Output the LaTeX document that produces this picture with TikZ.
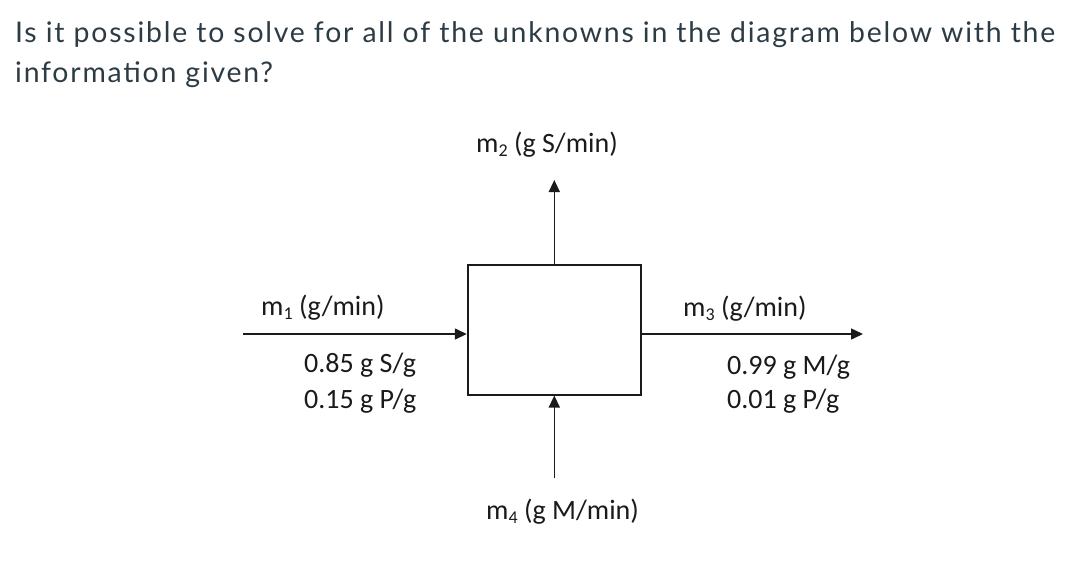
\documentclass[tikz,border=0pt]{standalone}
\usepackage{fontspec}
\setmainfont{Carlito}
\newfontfamily\latofont[LetterSpace=6.3]{Lato}
\usetikzlibrary{arrows.meta}
\definecolor{titlecol}{HTML}{2D3B45}
\definecolor{inkcol}{HTML}{1A1A1A}
\newcommand\sbs[1]{\raisebox{-4.5pt}{\fontsize{18}{18}\selectfont #1}}
\begin{document}
\begin{tikzpicture}[x=1pt,y=-1pt,
  title/.style={anchor=base west,inner sep=0pt,text=titlecol,font=\latofont\fontsize{28.4}{32}\selectfont},
  lbl/.style={anchor=base west,inner sep=0pt,text=inkcol,font=\fontsize{28}{32}\selectfont},
  flow/.style={draw=inkcol,line width=1.5pt,-{Triangle[length=12pt,width=11pt]}},
  unit/.style={draw=inkcol,line width=2pt,minimum width=173pt,minimum height=130pt,inner sep=0pt}]
\useasboundingbox (0,0) rectangle (1088,574);
\node[title] (t1) at (15,42.5) {Is it possible to solve for all of the unknowns in the diagram below with the};
\node[title] (t2) at (15,82.5) {information given?};
\node[unit] (box) at (554.3,329.5) {};
\coordinate (in1) at (243,334);
\coordinate (out3) at (863,334);
\coordinate (out2) at (554.3,180);
\coordinate (in4) at (554.3,478);
\draw[flow] (in1) -- (in1 -| box.west);
\draw[flow] (out3 -| box.east) -- (out3);
\draw[flow] (box.north) -- (out2);
\draw[flow] (in4) -- (box.south);
\node[lbl] (l2) at (476,152) {m\sbs{2} (g S/min)};
\node[lbl] (l1) at (261,315) {m\sbs{1} (g/min)};
\node[lbl] (l1a) at (304,372.5) {0.85 g S/g};
\node[lbl] (l1b) at (304,408) {0.15 g P/g};
\node[lbl] (l3) at (683,316) {m\sbs{3} (g/min)};
\node[lbl] (l3a) at (727,374) {0.99 g M/g};
\node[lbl] (l3b) at (727,408) {0.01 g P/g};
\node[lbl] (l4) at (486,519) {m\sbs{4} (g M/min)};
\end{tikzpicture}
\end{document}
